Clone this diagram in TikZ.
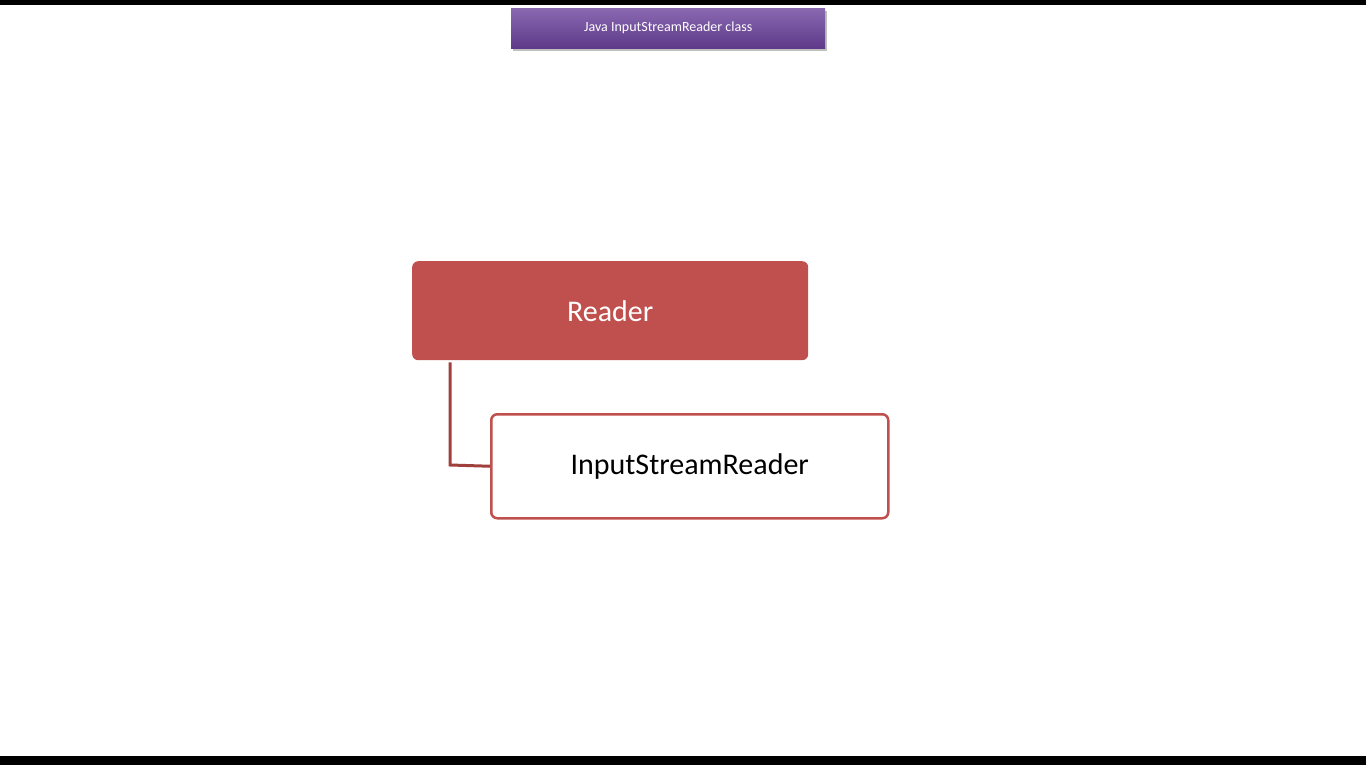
\documentclass[tikz,border=0pt]{standalone}
\usepackage{fontspec}
\setmainfont{Carlito}
\definecolor{rd}{HTML}{C0504D}
\definecolor{rdd}{HTML}{A0403D}
\definecolor{pu1}{HTML}{8A68B0}
\definecolor{pu2}{HTML}{5E3A8A}
\begin{document}
\begin{tikzpicture}[x=1pt,y=-1pt,
  box/.style={rounded corners=6pt,inner sep=0pt,anchor=north west}]
\useasboundingbox (0,0) rectangle (1366,765);
\fill[white] (0,0) rectangle (1366,765);
\fill[black] (0,0) rectangle (1366,5);
\fill[black] (0,756) rectangle (1366,765);
\fill[black!25] (513,11) rectangle (827,51);
\node[box,rounded corners=0pt,minimum width=314pt,minimum height=40pt,top color=pu1,bottom color=pu2,text=white,font=\fontsize{14}{16}\selectfont] (title) at (511,8) {Java InputStreamReader class};
\node[box,fill=rd,minimum width=396pt,minimum height=99pt,text=white,font=\fontsize{30}{34}\selectfont] (reader) at (412,261) {Reader};
\node[box,draw=rd,line width=2.5pt,fill=white,minimum width=397pt,minimum height=104pt,font=\fontsize{30}{34}\selectfont] (isr) at (490,413) {InputStreamReader};
\coordinate (c) at (450,465);
\draw[rdd,line width=3pt] (reader.south west -| c) ++(0,2) -- (c) -- (isr.west);
\end{tikzpicture}
\end{document}
